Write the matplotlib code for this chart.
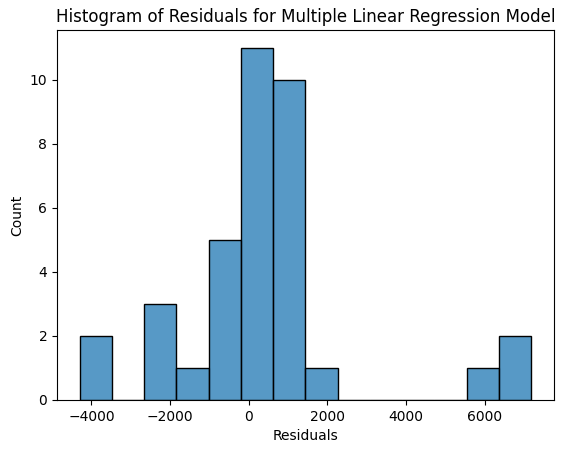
import numpy as np
import matplotlib
matplotlib.use('Agg')
import matplotlib.pyplot as plt
import seaborn as sns

# histogram bins
bin_edges = [-4300, -3480, -2660, -1840, -1020, -200, 620, 1440, 2260,
             3080, 3900, 4720, 5540, 6360, 7180]
counts = [2, 0, 3, 1, 5, 11, 10, 1, 0, 0, 0, 0, 1, 2]

bin_centers = [(a + b) / 2 for a, b in zip(bin_edges[:-1], bin_edges[1:])]

fig, ax = plt.subplots(figsize=(5.65, 4.53), dpi=100)
fig.subplots_adjust(left=0.101, right=0.980, bottom=0.117, top=0.934)

sns.histplot(x=bin_centers, weights=counts, bins=bin_edges, ax=ax)

ax.set_title('Histogram of Residuals for Multiple Linear Regression Model')
ax.set_xlabel('Residuals')
ax.set_ylabel('Count')

plt.savefig('out.png', dpi=100)
